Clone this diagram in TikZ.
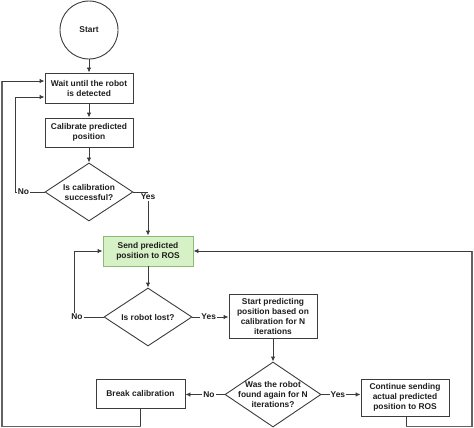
\documentclass[tikz,border=0pt]{standalone}
\usepackage{fontspec}
\setmainfont{Liberation Sans}
\usetikzlibrary{shapes.geometric,arrows.meta}
\definecolor{lnc}{RGB}{60,60,60}
\definecolor{txc}{RGB}{30,30,30}
\definecolor{gfill}{RGB}{214,241,198}
\definecolor{gdraw}{RGB}{140,185,115}
\begin{document}
\begin{tikzpicture}[x=1pt,y=-1pt,
  font=\fontsize{8.4}{10}\selectfont\bfseries,
  every node/.style={text=txc},
  box/.style={draw=lnc,line width=0.9pt,rectangle,inner sep=0pt,align=center},
  dia/.style={draw=lnc,line width=0.9pt,diamond,inner sep=0pt},
  lab/.style={fill=white,inner sep=1pt,font=\fontsize{8.4}{10}\selectfont\bfseries},
  arr/.style={draw=lnc,line width=0.9pt,-{Latex[length=5pt,width=4.5pt]}},
  ln/.style={draw=lnc,line width=0.9pt},
  outer/.style={draw=lnc!80,line width=1.6pt}]
\useasboundingbox (0,0) rectangle (474,428);
\node[draw=lnc,line width=0.9pt,circle,minimum size=58pt,inner sep=0pt] (start) at (89,30) {Start};
\node[box,minimum width=88pt,minimum height=30pt] (wait) at (89,88) {Wait until the robot\\is detected};
\node[box,minimum width=88pt,minimum height=29pt] (calib) at (89,132.5) {Calibrate predicted\\position};
\node[dia,minimum width=88pt,minimum height=58pt,label={[align=center]center:Is calibration\\successful?}] (dec1) at (89,192) {};
\node[box,draw=gdraw,fill=gfill,minimum width=90pt,minimum height=30pt] (send) at (148,251) {Send predicted\\position to ROS};
\node[dia,minimum width=88pt,minimum height=58pt,label={center:Is robot lost?}] (dec2) at (148,317) {};
\node[box,minimum width=88pt,minimum height=44pt] (pred) at (273,316) {Start predicting\\position based on\\calibration for N\\iterations};
\node[dia,minimum width=96pt,minimum height=65pt,label={[align=center]center:Was the robot\\found again for N\\iterations?}] (dec3) at (273,394.5) {};
\node[box,minimum width=89pt,minimum height=29pt] (brk) at (140.5,393.5) {Break calibration};
\node[box,minimum width=88pt,minimum height=37pt] (cont) at (405,397.5) {Continue sending\\actual predicted\\position to ROS};
\coordinate (c1) at (15,192);
\coordinate (c2) at (15,97);
\coordinate (c3) at (148,192);
\coordinate (c4) at (74,317);
\coordinate (c5) at (74,251);
\coordinate (b1) at (140.5,426.5);
\coordinate (b2) at (2,426.5);
\coordinate (b3) at (2,81);
\coordinate (r1) at (406,426.5);
\coordinate (r2) at (472,426.5);
\coordinate (r3) at (472,251);
% main flow
\draw[arr] (start) -- (wait);
\draw[arr] (wait) -- (calib);
\draw[arr] (calib) -- (dec1);
\draw[arr] (send) -- (dec2);
\draw[arr] (pred) -- (dec3);
% dec1 no
\draw[ln] (dec1.west) -- (c1) -- (c2);
\node[lab] (no1) at (23.5,192) {No};
\draw[arr] (c2) -- (c2 -| wait.west);
% dec1 yes
\draw[ln] (dec1.east) -- (c3);
\node[lab,anchor=north] (yes1) at (148,192.5) {Yes};
\draw[arr] (yes1.south) -- (send.north);
% dec2 no
\draw[ln] (dec2.west) -- node[lab,pos=0.9]{No} (c4) -- (c5);
\draw[arr] (c5) -- (send.west);
% dec2 yes
\draw[arr] (dec2.east) -- node[lab,pos=0.45]{Yes} (pred.west |- dec2.east);
% dec3 no
\draw[arr] (dec3.west) -- node[lab,pos=0.4]{No} (brk.east |- dec3.west);
% dec3 yes
\draw[arr] (dec3.east) -- node[lab,pos=0.42]{Yes} (cont.west |- dec3.east);
% break loop
\draw[ln] (brk.south) -- (b1);
\draw[outer] (b1) -- (b2) -- (b3);
\draw[arr] (b3) -- (b3 -| wait.west);
% continue loop
\draw[ln] (cont.south -| r1) -- (r1);
\draw[outer] (r1) -- (r2) -- (r3);
\draw[arr] (r3) -- (send.east);
\end{tikzpicture}
\end{document}
